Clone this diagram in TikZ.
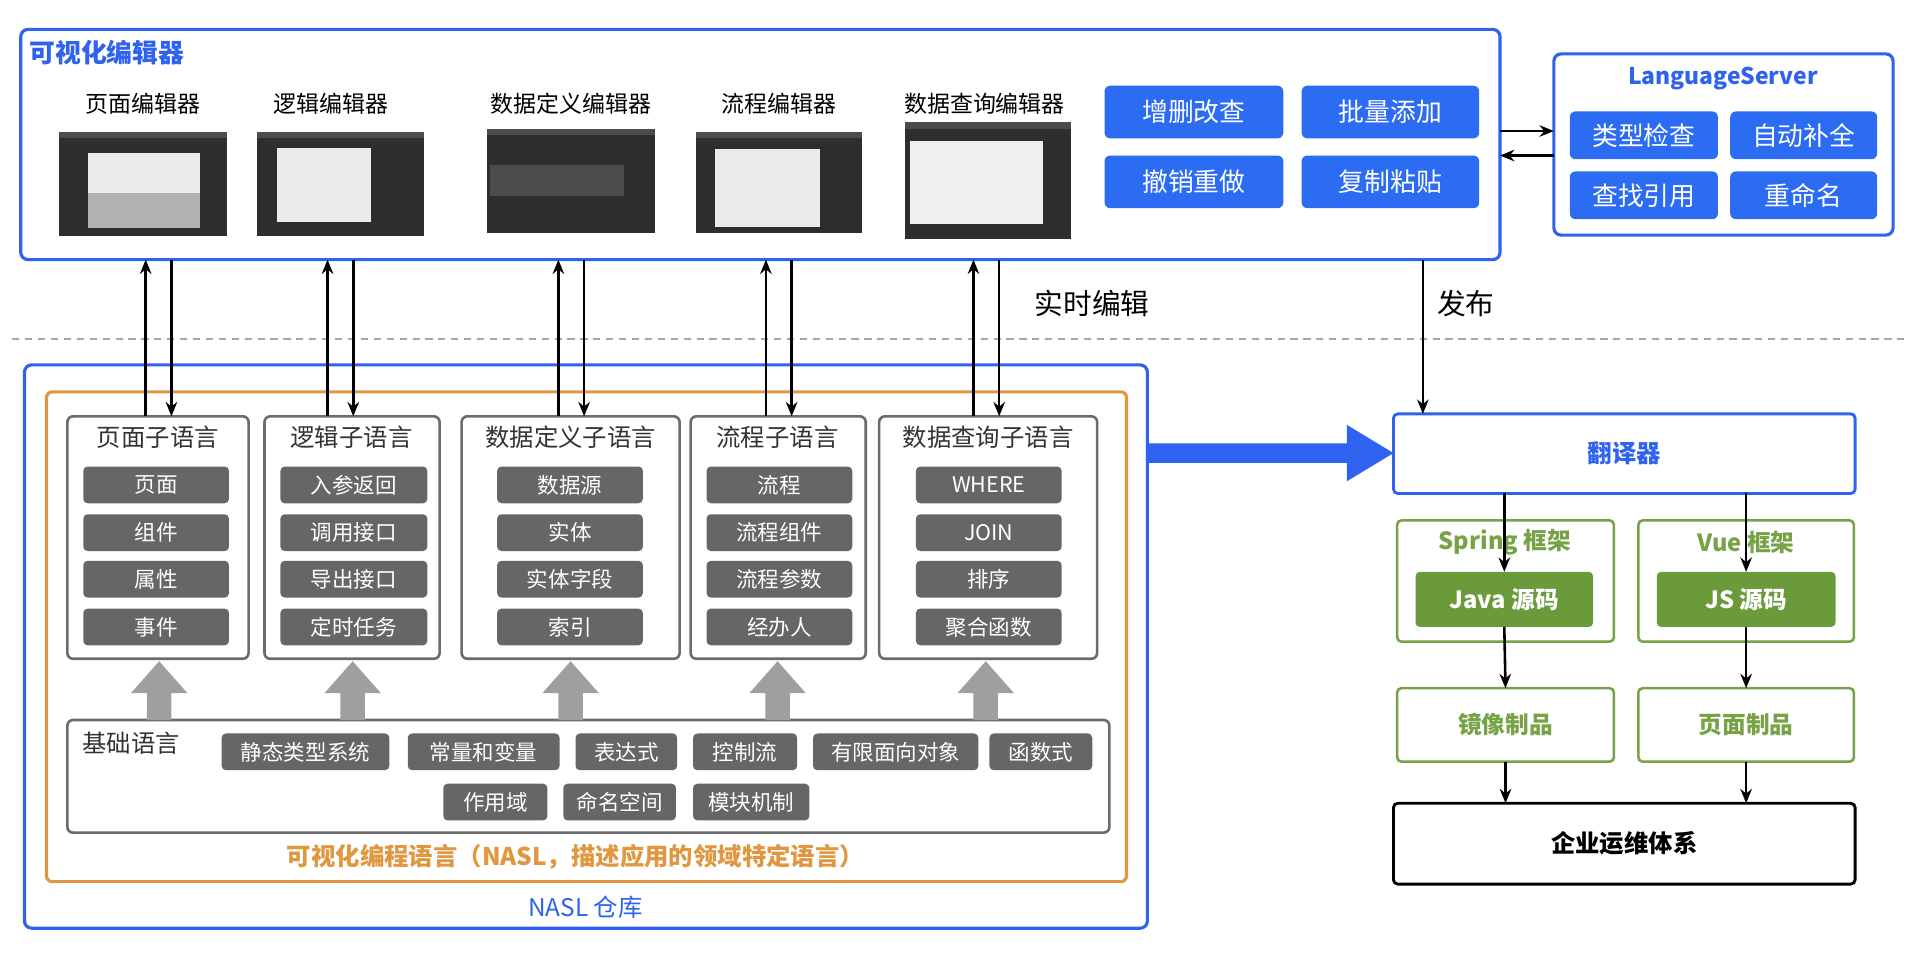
\documentclass[tikz,border=0pt]{standalone}
\usepackage{fontspec}
\setmainfont{Noto Sans CJK SC}
\usetikzlibrary{arrows.meta}
\definecolor{bl}{HTML}{2F62EE}
\definecolor{btn}{HTML}{2C6CF2}
\definecolor{org}{HTML}{E0973F}
\definecolor{grn}{HTML}{77A347}
\definecolor{grnf}{HTML}{6A9A3A}
\definecolor{gitem}{HTML}{666666}
\definecolor{gbord}{HTML}{6B6B6B}
\newcommand\bx[7]{\node[#1,minimum width={(#4-#2)*0.03cm},minimum height={(#5-#3)*0.03cm}] (#6) at ({(#2+#4)/2},{(#3+#5)/2}) {#7};}
\newcommand\shot[9]{\fill[black!82] (#1,#2) rectangle (#3,#4); \fill[black!70] (#1,#2) rectangle (#3,#2+5); \fill[#9] (#5,#6) rectangle (#7,#8);}
\begin{document}
\begin{tikzpicture}[x=0.03cm,y=-0.03cm,
  every node/.style={inner sep=0pt,outer sep=0pt},
  bbox/.style={draw=bl,line width=2.2pt,rounded corners=5pt},
  btn/.style={fill=btn,rounded corners=4pt,text=white,font=\fontsize{18}{21}\selectfont},
  sub/.style={draw=gbord,line width=1.8pt,rounded corners=4pt},
  item/.style={fill=gitem,rounded corners=3pt,text=white,font=\fontsize{15}{18}\selectfont},
  gbox/.style={draw=grn,line width=1.8pt,rounded corners=3pt},
  gfill/.style={fill=grnf,rounded corners=3pt,text=white,font=\bfseries\fontsize{16.5}{19}\selectfont},
  lbl/.style={font=\fontsize{16}{19}\selectfont},
  gt/.style={text=grn,font=\bfseries\fontsize{16.5}{19}\selectfont},
  st/.style={font=\fontsize{17}{20}\selectfont,text=black!80},
  arr/.style={-{Stealth[length=10pt,width=8pt]},line width=1.8pt}]
\useasboundingbox (0,0) rectangle (1568,784);
\fill[white] (0,0) rectangle (1568,784);
% top editor box
\bx{bbox}{17}{24}{1225}{212}{top}{}
\node[text=bl,font=\bfseries\fontsize{18}{21}\selectfont,anchor=west] at (24,43) {可视化编辑器};
\node[lbl] at (117,85) {页面编辑器};
\node[lbl] at (270,85) {逻辑编辑器};
\node[lbl] at (466,85) {数据定义编辑器};
\node[lbl] at (636,85) {流程编辑器};
\node[lbl] at (804,85) {数据查询编辑器};
\shot{48}{108}{185}{193}{72}{125}{163}{186}{gray!60}
\fill[white!92!black] (72,125) rectangle (163,158);
\shot{210}{108}{346}{193}{226}{121}{303}{181}{white!92!black}
\shot{398}{105}{535}{190}{400}{135}{510}{160}{black!70}
\shot{568}{108}{704}{190}{584}{122}{670}{185}{white!92!black}
\shot{739}{100}{875}{195}{743}{115}{852}{183}{white!94!black}
\bx{btn}{902}{70}{1048}{113}{b1}{增删改查}
\bx{btn}{1063}{70}{1208}{113}{b2}{批量添加}
\bx{btn}{902}{127}{1048}{170}{b3}{撤销重做}
\bx{btn}{1063}{127}{1208}{170}{b4}{复制粘贴}
% language server
\bx{bbox}{1269}{44}{1546}{192}{ls}{}
\node[text=bl,font=\bfseries\fontsize{16}{19}\selectfont] at (1407,64) {LanguageServer};
\bx{btn}{1282}{91}{1403}{130}{l1}{类型检查}
\bx{btn}{1413}{91}{1533}{130}{l2}{自动补全}
\bx{btn}{1282}{140}{1403}{179}{l3}{查找引用}
\bx{btn}{1413}{140}{1533}{179}{l4}{重命名}
\draw[arr] (top.east |- 0,107) -- (ls.west |- 0,107);
\draw[arr] (ls.west |- 0,127) -- (top.east |- 0,127);
% dashed line
\draw[gray!70,line width=1.8pt,dash pattern=on 5pt off 4pt] (10,277) -- (1558,277);
\node[font=\fontsize{20}{24}\selectfont] at (892,248) {实时编辑};
\node[font=\fontsize{20}{24}\selectfont] at (1197,248) {发布};
% NASL repo
\bx{bbox}{20}{298}{937}{758}{repo}{}
\node[text=bl,font=\fontsize{17}{20}\selectfont] at (478,741) {NASL 仓库};
\bx{draw=org,line width=2.2pt,rounded corners=4pt}{38}{320}{920}{720}{org}{}
\node[text=org,font=\bfseries\fontsize{17}{20}\selectfont] at (470,700) {可视化编程语言（NASL，描述应用的领域特定语言）};
% sub languages
\bx{sub}{55}{340}{203}{538}{s1}{}
\bx{sub}{216}{340}{359}{538}{s2}{}
\bx{sub}{377}{340}{555}{538}{s3}{}
\bx{sub}{564}{340}{707}{538}{s4}{}
\bx{sub}{718}{340}{896}{538}{s5}{}
\node[st] at (129,357) {页面子语言};
\node[st] at (287,357) {逻辑子语言};
\node[st] at (466,357) {数据定义子语言};
\node[st] at (635,357) {流程子语言};
\node[st] at (807,357) {数据查询子语言};
\foreach \xa/\xb/\k/\a/\b/\c/\d in {68/187/p/页面/组件/属性/事件,229/349/l/入参返回/调用接口/导出接口/定时任务,406/525/d/数据源/实体/实体字段/索引,577/696/f/流程/流程组件/流程参数/经办人,748/867/q/WHERE/JOIN/排序/聚合函数}{
  \bx{item}{\xa}{381}{\xb}{411}{\k1}{\a}
  \bx{item}{\xa}{420}{\xb}{450}{\k2}{\b}
  \bx{item}{\xa}{458}{\xb}{488}{\k3}{\c}
  \bx{item}{\xa}{497}{\xb}{527}{\k4}{\d}
}
% base language
\bx{sub}{55}{588}{906}{680}{base}{}
\node[st] at (107,607) {基础语言};
\bx{item}{181}{599}{318}{629}{c1}{静态类型系统}
\bx{item}{333}{599}{457}{629}{c2}{常量和变量}
\bx{item}{470}{599}{553}{629}{c3}{表达式}
\bx{item}{566}{599}{651}{629}{c4}{控制流}
\bx{item}{664}{599}{799}{629}{c5}{有限面向对象}
\bx{item}{808}{599}{892}{629}{c6}{函数式}
\bx{item}{362}{640}{447}{670}{c7}{作用域}
\bx{item}{460}{640}{552}{670}{c8}{命名空间}
\bx{item}{566}{640}{661}{670}{c9}{模块机制}
% block arrows up
\foreach \x in {130,288,466,635,805}{
  \fill[gray!75] (\x-10,588) -- (\x-10,566) -- (\x-23,566) -- (\x,540) -- (\x+23,566) -- (\x+10,566) -- (\x+10,588) -- cycle;
}
% editor <-> sub arrows
\foreach \s/\l/\r in {s1/-10/11,s2/-20/1,s3/-10/11,s4/-10/11,s5/-12/9}{
  \draw[arr] ([xshift=\l*0.03cm]\s.north) -- ([xshift=\l*0.03cm]\s.north |- top.south);
  \draw[arr] ([xshift=\r*0.03cm]\s.north |- top.south) -- ([xshift=\r*0.03cm]\s.north);
}
% translator
\bx{draw=bl,line width=2pt,rounded corners=3pt}{1138}{338}{1515}{403}{tr}{}
\node[text=bl,font=\bfseries\fontsize{17}{20}\selectfont] at (tr) {翻译器};
\draw[arr] (top.south -| 1162,0) -- (tr.north -| 1162,0);
\fill[bl] (repo.east |- 0,362) -- (1100,362) -- (1100,347) -- (tr.west |- 0,370) -- (1100,393) -- (1100,378) -- (repo.east |- 0,378) -- cycle;
% frameworks
\bx{gbox}{1141}{425}{1318}{524}{sp}{}
\bx{gbox}{1338}{425}{1514}{524}{vu}{}
\node[gt] at (1229,443) {Spring 框架};
\node[gt] at (1426,443) {Vue 框架};
\bx{gfill}{1156}{467}{1301}{512}{jv}{Java 源码}
\bx{gfill}{1353}{467}{1499}{512}{js}{JS 源码}
\bx{gbox}{1141}{562}{1318}{622}{im}{}
\bx{gbox}{1338}{562}{1514}{622}{pg}{}
\node[gt] at (im) {镜像制品};
\node[gt] at (pg) {页面制品};
\bx{draw=black,line width=2pt,rounded corners=3pt}{1138}{656}{1515}{722}{ops}{}
\node[font=\bfseries\fontsize{17}{20}\selectfont] at (ops) {企业运维体系};
\draw[arr] (tr.south -| jv) -- (jv.north);
\draw[arr] (tr.south -| js) -- (js.north);
\draw[arr] (jv.south) -- (im.north);
\draw[arr] (js.south) -- (pg.north);
\draw[arr] (im.south) -- (ops.north -| im);
\draw[arr] (pg.south) -- (ops.north -| pg);
\end{tikzpicture}
\end{document}
